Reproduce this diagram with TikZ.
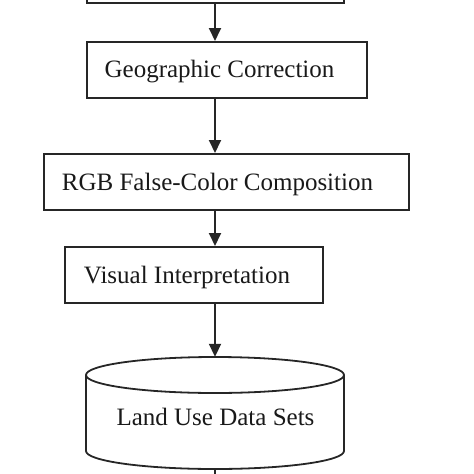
\documentclass[tikz,border=0pt]{standalone}
\usepackage{fontspec}
\setmainfont{Liberation Serif}
\usetikzlibrary{arrows.meta}
\begin{document}
\begin{tikzpicture}[x=1pt,y=-1pt,
  box/.style={draw=black!85, line width=1.8pt, rectangle, inner sep=0pt},
  lbl/.style={inner sep=0pt, font=\fontsize{25}{29}\selectfont, text=black!90},
  arr/.style={line width=1.9pt, draw=black!85, -{Triangle[length=13pt,width=12pt]}}]
\useasboundingbox (0,0) rectangle (474,474);
\coordinate (ax) at (215,0);
% top box (cut off)
\node[box, minimum width=257pt, minimum height=40pt, anchor=south west] (top) at (86,4) {};
% Geographic Correction
\node[box, minimum width=280pt, minimum height=56pt, anchor=north west] (geo) at (86,41) {};
\node[lbl] (geot) at (219.5,72) {Geographic Correction};
% RGB
\node[box, minimum width=365pt, minimum height=56pt, anchor=north west] (rgb) at (43,153) {};
\node[lbl] (rgbt) at (217.5,184) {RGB False-Color Composition};
% Visual
\node[box, minimum width=258pt, minimum height=56pt, anchor=north west] (vis) at (64,246) {};
\node[lbl] (vist) at (187,277) {Visual Interpretation};
% cylinder
\node[minimum width=258pt, minimum height=112pt, inner sep=0pt] (ds) at (215,413) {};
\draw[line width=1.8pt, draw=black!85] (215,375) ellipse [x radius=129, y radius=18];
\draw[line width=1.8pt, draw=black!85] (86,375) -- (86,451) arc[start angle=180, end angle=0, x radius=129, y radius=18] -- (344,375);
\node[lbl] (dst) at (215.5,417) {Land Use Data Sets};
\coordinate (bot) at (215,480);
% arrows
\draw[arr] (top.south -| ax) -- (geo.north -| ax);
\draw[arr] (geo.south -| ax) -- (rgb.north -| ax);
\draw[arr] (rgb.south -| ax) -- (vis.north -| ax);
\draw[arr] (vis.south -| ax) -- (ds.north -| ax);
\draw[line width=1.9pt, draw=black!85] (ds.south -| ax) -- (bot);
\end{tikzpicture}
\end{document}
